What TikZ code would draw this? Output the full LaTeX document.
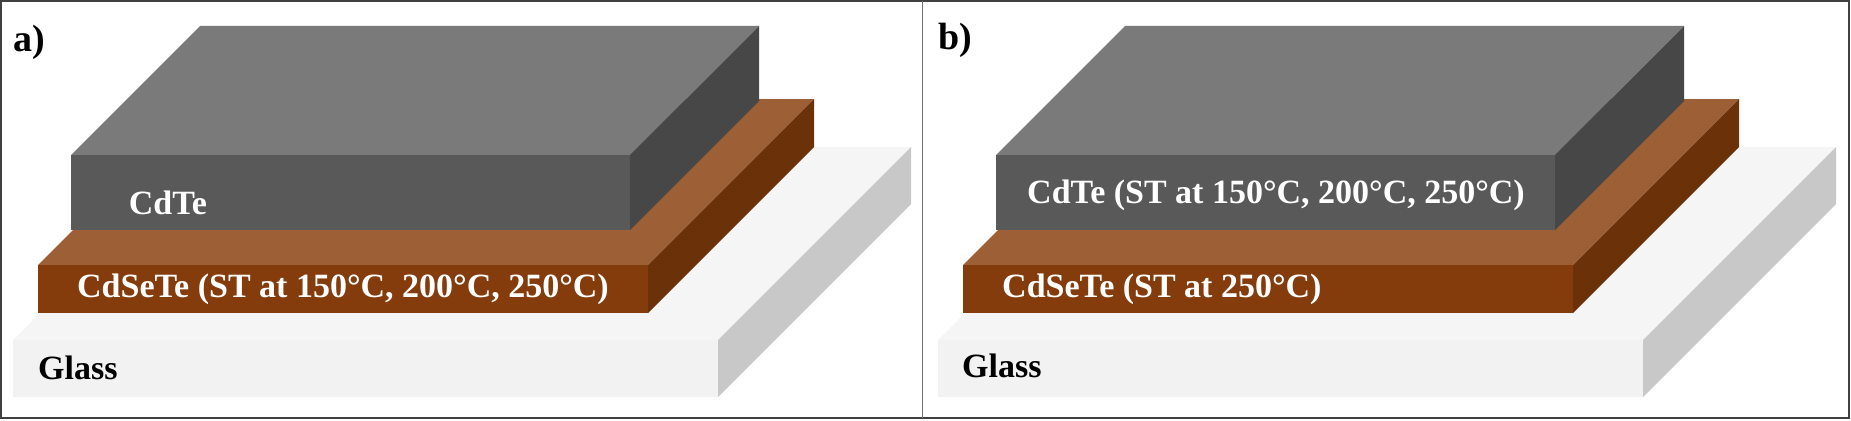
\documentclass[tikz,border=0pt]{standalone}
\usepackage{fontspec}
\setmainfont{Liberation Serif}
\definecolor{teT}{HTML}{7A7A7A}\definecolor{teF}{HTML}{595959}\definecolor{teS}{HTML}{474747}
\definecolor{seT}{HTML}{9C5F36}\definecolor{seF}{HTML}{843C0C}\definecolor{seS}{HTML}{6B3209}
\definecolor{glT}{HTML}{F5F5F5}\definecolor{glF}{HTML}{F2F2F2}\definecolor{glS}{HTML}{C8C8C8}
% x1, x2, ytop, ybot, depth, top, front, side
\newcommand{\myslab}[8]{%
  \fill[#6] (#1,#3) -- ++(#5,-#5) -- (#2+#5,#3-#5) -- (#2,#3) -- cycle;
  \fill[#7] (#1,#3) rectangle (#2,#4);
  \fill[#8] (#2,#3) -- (#2+#5,#3-#5) -- (#2+#5,#4-#5) -- (#2,#4) -- cycle;}
\tikzset{lbl/.style={font=\bfseries\fontsize{34}{40}\selectfont, inner sep=0pt},
  wl/.style={lbl, text=white}, pl/.style={font=\bfseries\fontsize{38}{44}\selectfont, inner sep=0pt}}
\begin{document}
\begin{tikzpicture}[x=1pt,y=-1pt]
\useasboundingbox (0,0) rectangle (1851,420);
\fill[white] (0,0) rectangle (1851,420);
\draw[line width=1.5pt, draw=black!75] (1,1) rectangle (1849,418);
\draw[line width=1pt, draw=black!55] (922,1) -- (922,418);
\foreach \o in {0,925}{
  \myslab{13+\o}{718+\o}{340}{397}{193}{glT}{glF}{glS}
  \myslab{38+\o}{648+\o}{265}{313}{166}{seT}{seF}{seS}
  \myslab{71+\o}{630+\o}{155}{230}{129}{teT}{teF}{teS}
}
\node[pl, anchor=west] (la) at (13,42) {a)};
\node[wl] (tea) at (168,203) {CdTe};
\node[wl, anchor=west] (sea) at (77,289) {CdSeTe (ST at 150°C, 200°C, 250°C)};
\node[lbl, anchor=west] (gla) at (38,368) {Glass};
\node[pl, anchor=west] (lb) at (938,40) {b)};
\node[wl, anchor=west] (teb) at (1027,195) {CdTe (ST at 150°C, 200°C, 250°C)};
\node[wl, anchor=west] (seb) at (1002,289) {CdSeTe (ST at 250°C)};
\node[lbl, anchor=west] (glb) at (962,366) {Glass};
\end{tikzpicture}
\end{document}
